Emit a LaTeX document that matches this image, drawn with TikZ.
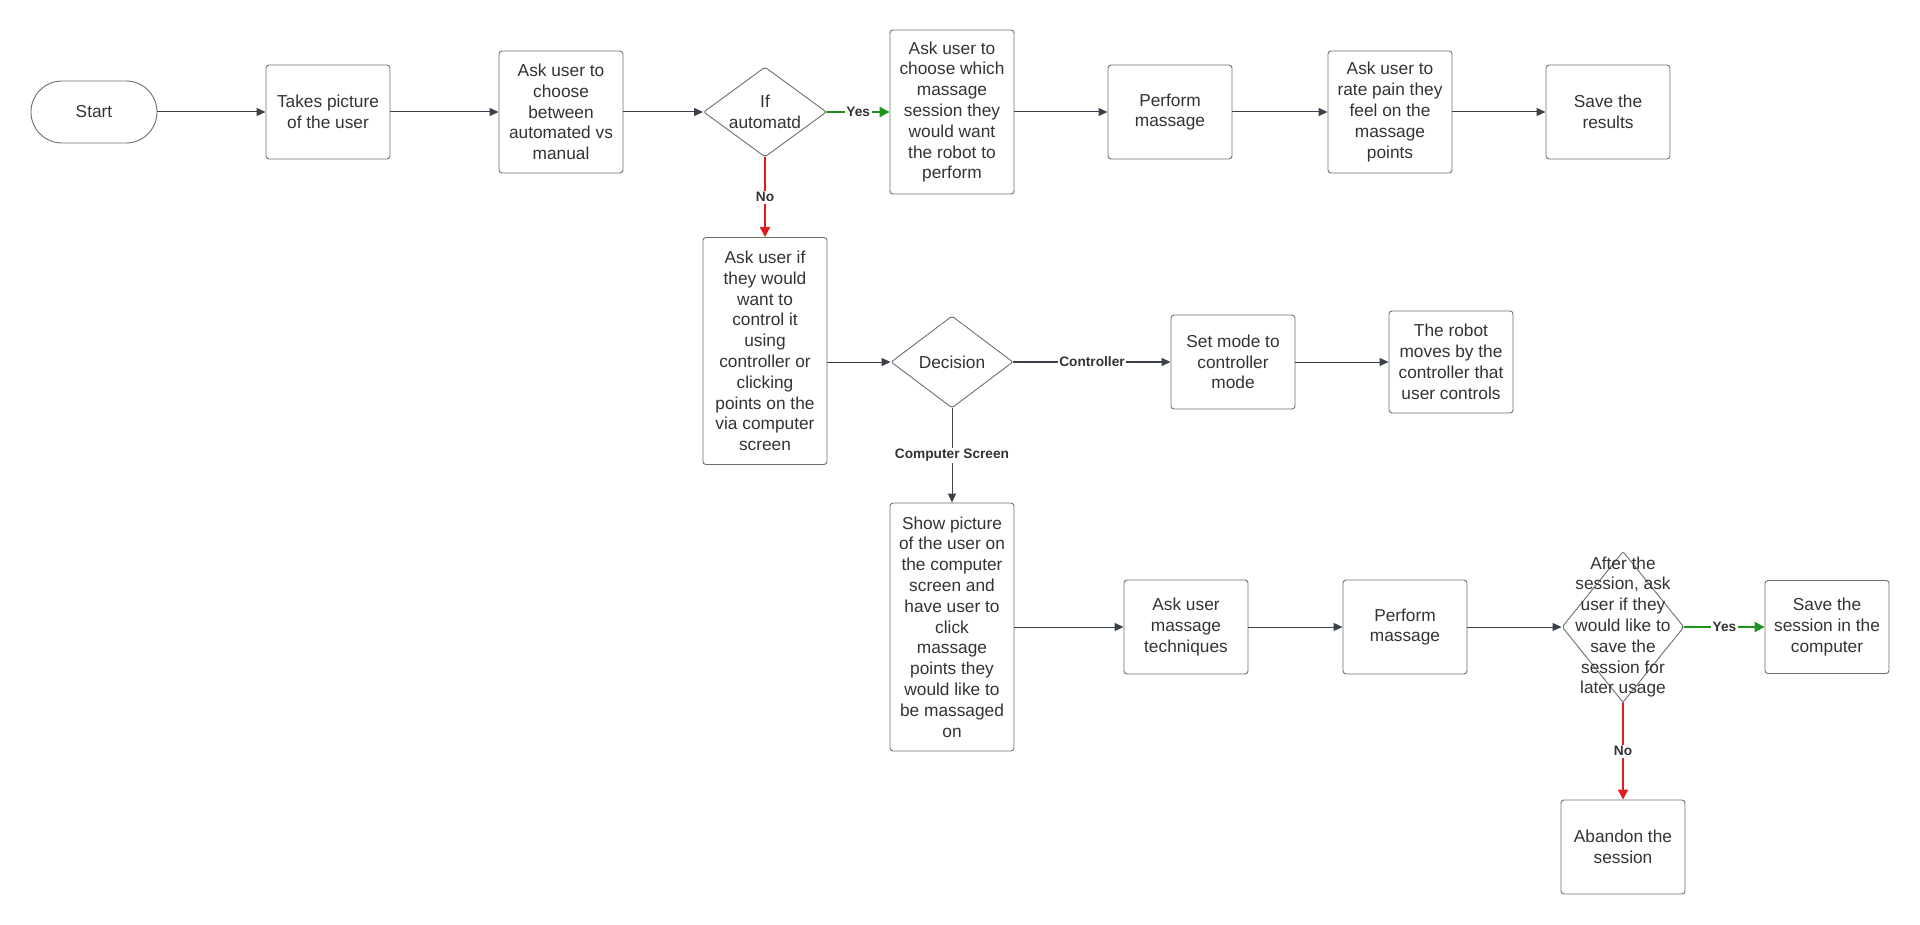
\documentclass[tikz,border=0pt]{standalone}
\usepackage{fontspec}
\setmainfont{Liberation Sans}
\usepackage{xcolor}
\usepackage{tikz}
\usetikzlibrary{arrows.meta,calc,positioning,shapes.geometric}
\definecolor{boxgray}{HTML}{6E6E6E}
\definecolor{textgray}{HTML}{333333}
\definecolor{linegray}{HTML}{3A414A}
\definecolor{yesgreen}{HTML}{1A941A}
\definecolor{nored}{HTML}{E31B1B}
\newcommand{\boxfont}{\fontsize{17.3}{20.8}\selectfont}
\newcommand{\lblfont}{\fontsize{13.7}{15}\selectfont\bfseries}
\tikzset{
  box/.style={draw=boxgray, line width=0.9pt, rounded corners=3pt, align=center,
    font=\boxfont, text=textgray, inner sep=0pt, minimum width=124pt},
  term/.style={box, rounded corners=31pt, minimum width=126pt, minimum height=62pt},
  dec/.style={diamond, draw=boxgray, line width=0.9pt, inner sep=0pt, rounded corners=2pt},
  dtext/.style={align=center, font=\boxfont, text=textgray},
  flow/.style={draw=linegray, line width=1pt, -{Triangle[length=9pt,width=8pt]}},
  yesflow/.style={flow, draw=yesgreen, line width=2pt, -{Triangle[length=10pt,width=10pt]}, color=yesgreen},
  noflow/.style={flow, draw=nored, line width=2pt, -{Triangle[length=10pt,width=10pt]}, color=nored},
  elabel/.style={fill=white, font=\lblfont, text=textgray, inner sep=1.5pt},
  every picture/.style={line cap=round, line join=round}
}
\begin{document}
\begin{tikzpicture}[x=1pt,y=-1pt]
  \useasboundingbox (0,0) rectangle (1920,925);

  % top row
  \node[term] (start) at (94,112) {Start};
  \node[box, minimum height=94pt] (takes) at (328,112) {Takes picture\\of the user};
  \node[box, minimum height=122pt] (choose) at (561,112) {Ask user to\\choose\\between\\automated vs\\manual};
  \node[dec, minimum width=123pt, minimum height=90pt,
    label={[dtext]center:{If\\automatd}}] (auto) at (765,112) {};
  \node[box, minimum height=164pt] (which) at (952,112) {Ask user to\\choose which\\massage\\session they\\would want\\the robot to\\perform};
  \node[box, minimum height=94pt] (perfa) at (1170,112) {Perform\\massage};
  \node[box, minimum height=122pt] (rate) at (1390,112) {Ask user to\\rate pain they\\feel on the\\massage\\points};
  \node[box, minimum height=94pt] (savea) at (1608,112) {Save the\\results};

  % manual branch
  \node[box, minimum height=227pt] (askif) at (765,351) {Ask user if\\they would\\want to\\control it\\using\\controller or\\clicking\\points on the\\via computer\\screen};
  \node[dec, minimum width=122pt, minimum height=92pt,
    label={[dtext]center:{Decision}}] (mode) at (952,362) {};
  \node[box, minimum height=94pt] (setmode) at (1233,362) {Set mode to\\controller\\mode};
  \node[box, minimum height=102pt] (robot) at (1451,362) {The robot\\moves by the\\controller that\\user controls};

  % screen branch
  \node[box, minimum height=248pt] (show) at (952,627) {Show picture\\of the user on\\the computer\\screen and\\have user to\\click\\massage\\points they\\would like to\\be massaged\\on};
  \node[box, minimum height=94pt] (tech) at (1186,627) {Ask user\\massage\\techniques};
  \node[box, minimum height=94pt] (perfb) at (1405,627) {Perform\\massage};
  \node[dec, minimum width=122pt, minimum height=151pt,
    label={[dtext]center:{After the\\session, ask\\user if they\\would like to\\save the\\session for\\later usage}}] (keep) at (1623,627) {};
  \node[box, minimum height=93pt] (saveb) at (1827,627) {Save the\\session in the\\computer};
  \node[box, minimum height=94pt] (abandon) at (1623,847) {Abandon the\\session};

  % connectors
  \draw[flow] (start) -- (takes);
  \draw[flow] (takes) -- (choose);
  \draw[flow] (choose) -- (auto);
  \draw[yesflow] (auto.east) -- node[elabel] {Yes} (which.west);
  \draw[noflow] (auto.south) -- node[elabel] {No} (askif.north);
  \draw[flow] (which) -- (perfa);
  \draw[flow] (perfa) -- (rate);
  \draw[flow] (rate) -- (savea);
  \draw[flow] (askif.east |- mode.west) -- (mode.west);
  \draw[flow, line width=1.4pt] (mode.east) -- node[elabel] {Controller} (setmode.west);
  \draw[flow] (setmode) -- (robot);
  \draw[flow] (mode.south) -- node[elabel] {Computer Screen} (show.north);
  \draw[flow] (show) -- (tech);
  \draw[flow] (tech) -- (perfb);
  \draw[flow] (perfb) -- (keep.west);
  \draw[yesflow] (keep.east) -- node[elabel] {Yes} (saveb.west);
  \draw[noflow] (keep.south) -- node[elabel] {No} (abandon.north);
\end{tikzpicture}
\end{document}
